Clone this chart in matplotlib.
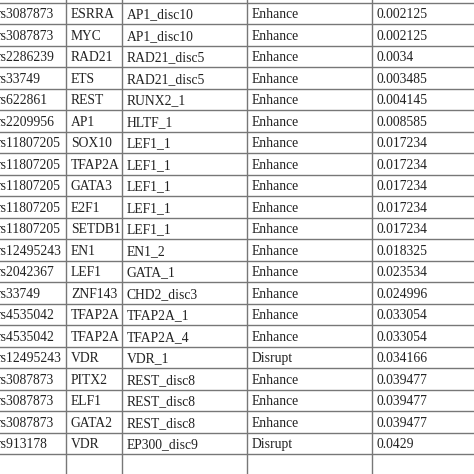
import matplotlib
matplotlib.use('Agg')
import matplotlib.pyplot as plt

snps = ['rs3087873', 'rs3087873', 'rs2286239', 'rs33749', 'rs622861', 'rs2209956',
        'rs11807205', 'rs11807205', 'rs11807205', 'rs11807205', 'rs11807205',
        'rs12495243', 'rs2042367', 'rs33749', 'rs4535042', 'rs4535042',
        'rs12495243', 'rs3087873', 'rs3087873', 'rs3087873', 'rs913178']
tfs = ['ESRRA', 'MYC', 'RAD21', 'ETS', 'REST', 'AP1', 'SOX10', 'TFAP2A', 'GATA3',
       'E2F1', 'SETDB1', 'EN1', 'LEF1', 'ZNF143', 'TFAP2A', 'TFAP2A', 'VDR',
       'PITX2', 'ELF1', 'GATA2', 'VDR']
motifs = ['AP1_disc10', 'AP1_disc10', 'RAD21_disc5', 'RAD21_disc5', 'RUNX2_1',
          'HLTF_1', 'LEF1_1', 'LEF1_1', 'LEF1_1', 'LEF1_1', 'LEF1_1', 'EN1_2',
          'GATA_1', 'CHD2_disc3', 'TFAP2A_1', 'TFAP2A_4', 'VDR_1', 'REST_disc8',
          'REST_disc8', 'REST_disc8', 'EP300_disc9']
effects = ['Enhance'] * 16 + ['Disrupt', 'Enhance', 'Enhance', 'Enhance', 'Disrupt']
pvals = ['0.002125', '0.002125', '0.0034', '0.003485', '0.004145', '0.008585',
         '0.017234', '0.017234', '0.017234', '0.017234', '0.017234', '0.018325',
         '0.023534', '0.024996', '0.033054', '0.033054', '0.034166', '0.039477',
         '0.039477', '0.039477', '0.0429']

fig = plt.figure(figsize=(4.74, 4.74), dpi=100)
ax = fig.add_axes([0, 0, 1, 1])
ax.set_xlim(0, 474)
ax.set_ylim(474, 0)
ax.axis('off')

row_h = 21.5
top = 2.5
col_x = [66, 122, 247, 372]
text_x = [-3, 71, 127, 252, 377]
n = len(pvals)
for i in range(n + 1):
    ax.axhline(top + i * row_h, color='#777777', lw=1)
for x in col_x:
    ax.axvline(x, color='#777777', lw=1)
for i in range(n):
    y = top + (i + 0.5) * row_h
    for x, v in zip(text_x, [snps[i], tfs[i], motifs[i], effects[i], pvals[i]]):
        ax.text(x, y, v, fontsize=9.8, family='Liberation Serif',
                va='center_baseline', ha='left', color='#222222')

fig.savefig('out.png', dpi=100)
